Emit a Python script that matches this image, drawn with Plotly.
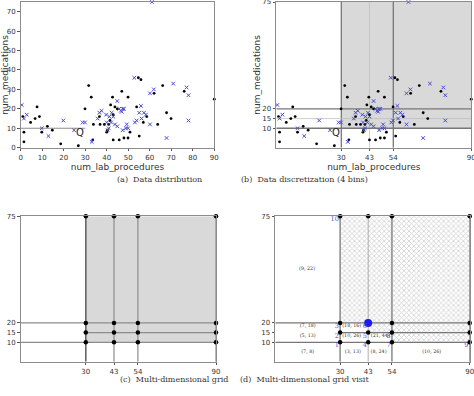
import plotly.graph_objects as go

W, H = 474, 396

# ---------------- data ----------------
black_x = [1, 1.5, 1.5, 4.6, 6.7, 7.6, 8.7, 9.8, 12.4, 14.7, 18.6, 26.8, 29.9, 31.6, 32.8, 33.5,
           33.8, 36.6, 36.9, 38.9, 40, 40.3, 40.9, 41.5, 41.8, 42.7, 43, 43, 43.8, 44.9, 45.8,
           47, 48, 49.9, 49.9, 50.8, 53.9, 54.7, 55.1, 55.9, 57, 58.6, 62, 63.7, 66, 67.8,
           69.9, 76, 90]
black_y = [16, 8, 3, 13, 15, 21, 16, 8, 11, 9, 2, 1, 20, 32, 26, 4,
           12, 16, 12, 12, 8, 9, 12, 14, 22, 26, 17, 4, 21, 20, 4,
           29, 5, 26, 5, 8, 21, 36, 6, 35, 13, 16, 28, 12, 32, 18,
           15, 29, 25]
blue_x = [0.5, 1.5, 2.8, 9.8, 12.9, 19.8, 24.8, 28.8, 29.9, 33, 35.8, 36.6, 37.6, 39.7, 40,
          40.4, 40.9, 41.2, 42, 42.3, 43, 43.8, 44.9, 44.9, 45.8, 46.5, 47, 47.4, 47.4, 48,
          48.9, 49.3, 49.9, 52.8, 53.1, 53.9, 55.1, 55.9, 56.2, 57.3, 58.2, 60.1, 60.1, 61.9,
          67.8, 70.9, 77.1, 78, 78, 61]
blue_y = [22, 15, 17, 10, 6, 14, 9, 13, 13, 3, 15, 18, 19, 17, 13,
          9, 10, 16, 13, 18, 16, 12, 24, 11, 20, 19, 18.5, 20, 9, 20,
          10, 12, 10, 36, 13, 14, 18, 21.5, 15, 18, 17, 12, 28, 30,
          5, 33, 31, 27, 14, 75]

query = (30, 10)
q_label = "Q"
x_edges = [30, 43, 54, 90]
y_edges = [10, 15, 20, 75]
x_max, y_max = 90, 75

visit_order = ["1", "2", "3", "4", "5", "6", "7", "8", "9", "10"]
visit_px = [30, 30, 30, 43, 43, 43, 54, 54, 90, 30]
visit_py = [10, 15, 20, 10, 15, 20, 10, 15, 10, 75]
current_pt = (43, 20)

cell_text = ["(9, 22)", "(7, 18)", "(5, 13)", "(7, 8)", "(18, 16)", "(10, 26)", "(3, 13)",
             "(21, 44)", "(8, 24)", "(10, 26)"]
cell_x = [14.7, 15, 15, 15, 35.4, 35.4, 35.9, 48.6, 47.8, 72.4]
cell_y = [48, 18.6, 13.6, 5.2, 18.6, 13.6, 5.2, 13.6, 5.2, 5.2]

captions = ["(a)  Data distribution", "(b)  Data discretization (4 bins)",
            "(c)  Multi-dimensional grid", "(d)  Multi-dimensional grid visit"]

# ---------------- layout helpers ----------------
def dom_x(a, b):
    return [a / W, b / W]

def dom_y(top, bottom):
    return [1 - bottom / H, 1 - top / H]

AX = dict(showgrid=False, zeroline=False, showline=True, linecolor="#8c8c8c", linewidth=1.3,
          mirror=True, ticks="outside", ticklen=2.5, tickwidth=0.8, tickcolor="#555",
          tickfont=dict(family="DejaVu Sans", size=7, color="#333"), fixedrange=True,
          automargin=False, ticklabeloverflow="allow")

fig = go.Figure()

BLUE = "#4a4ad0"
xmark = dict(color=BLUE, size=3.6, symbol="x-thin", line=dict(width=1.0, color=BLUE))

# ---------- panel (a) ----------
fig.add_trace(go.Scatter(x=[0, query[0]], y=[query[1], query[1]], mode="lines", xaxis="x", yaxis="y",
                         line=dict(color="#8c8c8c", width=1.2), showlegend=False))
fig.add_trace(go.Scatter(x=black_x, y=black_y, mode="markers", xaxis="x", yaxis="y",
                         marker=dict(color="black", size=2.8), cliponaxis=False, showlegend=False))
fig.add_trace(go.Scatter(x=blue_x, y=blue_y, mode="markers", xaxis="x", yaxis="y",
                         marker=xmark, cliponaxis=False, showlegend=False))

# ---------- panel (b) ----------
shapes = []
shapes.append(dict(type="rect", xref="x2", yref="y2", x0=x_edges[0], x1=x_max, y0=y_edges[0],
                   y1=y_max, fillcolor="#d9d9d9", line=dict(width=0), layer="below"))
for xv, c, w in [(x_edges[0], "#777", 1.3), (x_edges[1], "#bbbbbb", 0.7), (x_edges[2], "#777", 1.3)]:
    shapes.append(dict(type="line", xref="x2", yref="y2", x0=xv, x1=xv, y0=0, y1=y_max,
                       line=dict(color=c, width=w), layer="below"))
for yv, c, w in [(y_edges[0], "#777", 1.3), (y_edges[1], "#bbbbbb", 0.7), (y_edges[2], "#777", 1.3)]:
    shapes.append(dict(type="line", xref="x2", yref="y2", x0=0, x1=x_max, y0=yv, y1=yv,
                       line=dict(color=c, width=w), layer="below"))
fig.add_trace(go.Scatter(x=black_x, y=black_y, mode="markers", xaxis="x2", yaxis="y2",
                         marker=dict(color="black", size=2.8), cliponaxis=False, showlegend=False))
fig.add_trace(go.Scatter(x=blue_x, y=blue_y, mode="markers", xaxis="x2", yaxis="y2",
                         marker=xmark, cliponaxis=False, showlegend=False))

# ---------- panel (c) ----------
shapes.append(dict(type="rect", xref="x3", yref="y3", x0=x_edges[0], x1=x_max, y0=y_edges[0],
                   y1=y_max, fillcolor="#d9d9d9", line=dict(width=0), layer="below"))
for i, xv in enumerate(x_edges):
    shapes.append(dict(type="line", xref="x3", yref="y3", x0=xv, x1=xv, y0=0, y1=y_max,
                       line=dict(color="#666" if i == 0 else "#8c8c8c", width=1.6 if i == 0 else 1.2),
                       layer="below"))
for yv in y_edges[:3]:
    x0 = 0 if yv != y_edges[1] else x_edges[0]
    shapes.append(dict(type="line", xref="x3", yref="y3", x0=x0, x1=x_max, y0=yv, y1=yv,
                       line=dict(color="#8c8c8c", width=1.2), layer="below"))
gx = [xv for yv in y_edges for xv in x_edges]
gy = [yv for yv in y_edges for xv in x_edges]
fig.add_trace(go.Scatter(x=gx, y=gy, mode="markers", xaxis="x3", yaxis="y3",
                         marker=dict(color="black", size=4.5), cliponaxis=False, showlegend=False))

# ---------- panel (d) ----------
stair_x = [x_edges[0], x_edges[0], x_max, x_max, x_edges[2], x_edges[2], x_edges[1], x_edges[1], x_edges[0]]
stair_y = [y_edges[2], y_max, y_max, y_edges[0], y_edges[0], y_edges[1], y_edges[1], y_edges[2], y_edges[2]]
fig.add_trace(go.Scatter(x=stair_x, y=stair_y, mode="lines", fill="toself", xaxis="x4", yaxis="y4",
                         line=dict(width=0), fillcolor="rgba(0,0,0,0)",
                         fillpattern=dict(shape="x", fgcolor="#a0a0a0", bgcolor="white", size=3.5,
                                          solidity=0.4, fillmode="overlay"),
                         showlegend=False, hoverinfo="skip"))
for i, xv in enumerate(x_edges):
    fig.add_trace(go.Scatter(x=[xv, xv], y=[0, y_max], mode="lines", xaxis="x4", yaxis="y4",
                             line=dict(color="#777" if i != 1 else "#999", width=1.3 if i != 1 else 0.8),
                             showlegend=False, hoverinfo="skip"))
for yv in y_edges[:3]:
    x0 = 0 if yv != y_edges[1] else x_edges[0]
    fig.add_trace(go.Scatter(x=[x0, x_max], y=[yv, yv], mode="lines", xaxis="x4", yaxis="y4",
                             line=dict(color="#777", width=1.2), showlegend=False, hoverinfo="skip"))
fig.add_trace(go.Scatter(x=gx, y=gy, mode="markers", xaxis="x4", yaxis="y4",
                         marker=dict(color="black", size=4.5), cliponaxis=False, showlegend=False))
fig.add_trace(go.Scatter(x=[current_pt[0]], y=[current_pt[1]], mode="markers", xaxis="x4", yaxis="y4",
                         marker=dict(color="#1a1aee", size=8, symbol="circle"), cliponaxis=False,
                         showlegend=False))
fig.add_trace(go.Scatter(x=[v - 0.6 for v in visit_px], y=[v - 1.7 for v in visit_py], mode="text",
                         text=visit_order, xaxis="x4", yaxis="y4", textposition="middle left",
                         textfont=dict(family="DejaVu Serif", size=6.5, color=BLUE),
                         cliponaxis=False, showlegend=False))
fig.add_trace(go.Scatter(x=cell_x, y=cell_y, mode="text", text=cell_text, xaxis="x4", yaxis="y4",
                         textfont=dict(family="DejaVu Serif", size=4.8, color="#333"),
                         cliponaxis=False, showlegend=False))

# ---------------- axes ----------------
title_font = dict(family="DejaVu Sans", size=9, color="#333")
layout = dict(
    width=W, height=H, margin=dict(l=0, r=0, t=0, b=0, autoexpand=False),
    paper_bgcolor="white", plot_bgcolor="rgba(0,0,0,0)",
    xaxis=dict(AX, domain=dom_x(20.7, 214.3), range=[0, x_max], tickvals=list(range(0, 91, 10)),
               title=dict(text="num_lab_procedures", font=title_font, standoff=0), anchor="y"),
    yaxis=dict(AX, domain=dom_y(2, 147.7), range=[0, y_max], tickvals=list(range(0, 71, 10)),
               title=dict(text="num_medications", font=title_font, standoff=0), anchor="x"),
    xaxis2=dict(AX, domain=dom_x(276.3, 471.3), range=[0, x_max], tickvals=x_edges,
                title=dict(text="num_lab_procedures", font=title_font, standoff=0), anchor="y2"),
    yaxis2=dict(AX, domain=dom_y(2, 147.7), range=[0, y_max], tickvals=y_edges,
                title=dict(text="num_medications", font=title_font, standoff=0), anchor="x2"),
    xaxis3=dict(AX, domain=dom_x(20.7, 216), range=[0, x_max], tickvals=x_edges, anchor="y3"),
    yaxis3=dict(AX, domain=dom_y(216.3, 361.7), range=[0, y_max], tickvals=y_edges, anchor="x3"),
    xaxis4=dict(AX, domain=dom_x(275.3, 469.7), range=[0, x_max], tickvals=x_edges, anchor="y4"),
    yaxis4=dict(AX, domain=dom_y(216.3, 361.7), range=[0, y_max], tickvals=y_edges, anchor="x4"),
    shapes=shapes,
)
fig.update_layout(**layout)

# Q labels
for xr, yr in [("x", "y"), ("x2", "y2")]:
    fig.add_annotation(x=query[0] - 2.4, y=query[1] - 2.3, xref=xr, yref=yr, text=q_label,
                       showarrow=False, font=dict(family="DejaVu Sans", size=10, color="#222"))

cap_pos = [(115, 179), (370, 179), (118, 386), (371, 386)]
for txt, (cx, cy) in zip(captions, cap_pos):
    fig.add_annotation(x=cx / W, y=1 - cy / H, xref="paper", yref="paper", text=txt, showarrow=False,
                       font=dict(family="DejaVu Serif", size=8, color="#333"))

fig.write_html("out.html", config={"displayModeBar": False},
               post_script="document.body.style.margin='0px';document.body.style.overflow='hidden';")
